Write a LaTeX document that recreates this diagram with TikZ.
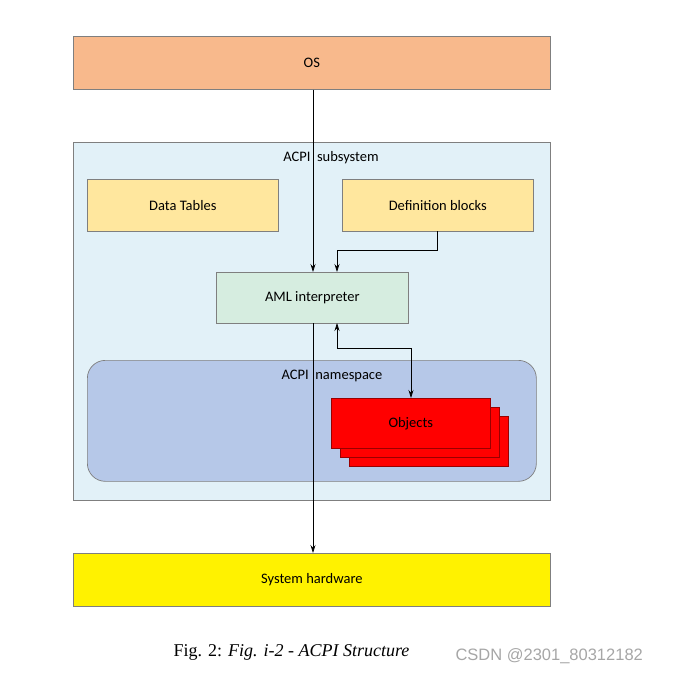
\documentclass[tikz,border=0pt]{standalone}
\usepackage{fontspec}
\setmainfont{Carlito}
\newfontfamily\capfont{Liberation Serif}
\newfontfamily\wmfont{Liberation Sans}
\usetikzlibrary{arrows.meta}
\definecolor{osc}{HTML}{F8B98C}
\definecolor{subc}{HTML}{E2F1F8}
\definecolor{tabc}{HTML}{FFE79E}
\definecolor{amlc}{HTML}{D6EDE0}
\definecolor{nsc}{HTML}{B6C8E8}
\definecolor{bordc}{HTML}{7F7F7F}
\begin{document}
\begin{tikzpicture}[x=1pt,y=-1pt,
  lbl/.style={font=\fontsize{14.5}{17}\selectfont},
  box/.style={draw=bordc,line width=0.7pt,inner sep=0pt,anchor=north west,lbl},
  obj/.style={draw=red!60!black,fill=red,line width=0.6pt,anchor=north west,minimum width=159pt,minimum height=50pt,inner sep=0pt},
  arr/.style={-{Stealth[length=8pt,width=5pt]},line width=0.7pt}]
\useasboundingbox (0,0) rectangle (683,675);
\node[box,fill=osc,minimum width=477pt,minimum height=53pt] (os) at (73,36) {OS};
\node[box,fill=subc,minimum width=477pt,minimum height=358pt] (sub) at (73,142) {};
\node[lbl] (sublbl) at (331,158) {ACPI\ \ subsystem};
\node[box,fill=tabc,minimum width=191pt,minimum height=52pt] (dt) at (87,179) {Data Tables};
\node[box,fill=tabc,minimum width=191pt,minimum height=52pt] (db) at (342,179) {Definition blocks};
\node[box,fill=amlc,minimum width=192pt,minimum height=51pt] (aml) at (216,272) {AML interpreter};
\node[box,fill=nsc,rounded corners=18pt,minimum width=449pt,minimum height=121pt] (ns) at (87,360) {};
\node[lbl] (nslbl) at (332,376) {ACPI\ \ namespace};
\node[obj] (o3) at (349,416) {};
\node[obj] (o2) at (340,407) {};
\node[obj,lbl] (o1) at (331,398) {Objects};
\node[box,fill=yellow,minimum width=477pt,minimum height=53pt] (hw) at (73,553) {System hardware};
\coordinate (a1) at (313,272);
\coordinate (a2) at (337,272);
\coordinate (d1) at (437,231);
\coordinate (b1) at (313,323);
\coordinate (b2) at (337,323);
\coordinate (o1t) at (411,398);
\draw[arr] (os.south -| a1) -- (a1);
\draw[arr] (d1) -- (437,250) -- (337,250) -- (a2);
\draw[arr] (b1) -- (hw.north -| b1);
\draw[arr,{Stealth[length=8pt,width=5pt]}-{Stealth[length=8pt,width=5pt]}] (b2) -- (337,348) -- (411,348) -- (o1t);
\node[anchor=west,font=\capfont\fontsize{18}{20}\selectfont] (cap) at (170,652) {Fig. 2: \textit{Fig. i-2 - ACPI Structure}};
\node[anchor=west,text=gray!70,font=\wmfont\fontsize{16.5}{19}\selectfont] (wm) at (452,656) {CSDN @2301\_80312182};
\end{tikzpicture}
\end{document}
